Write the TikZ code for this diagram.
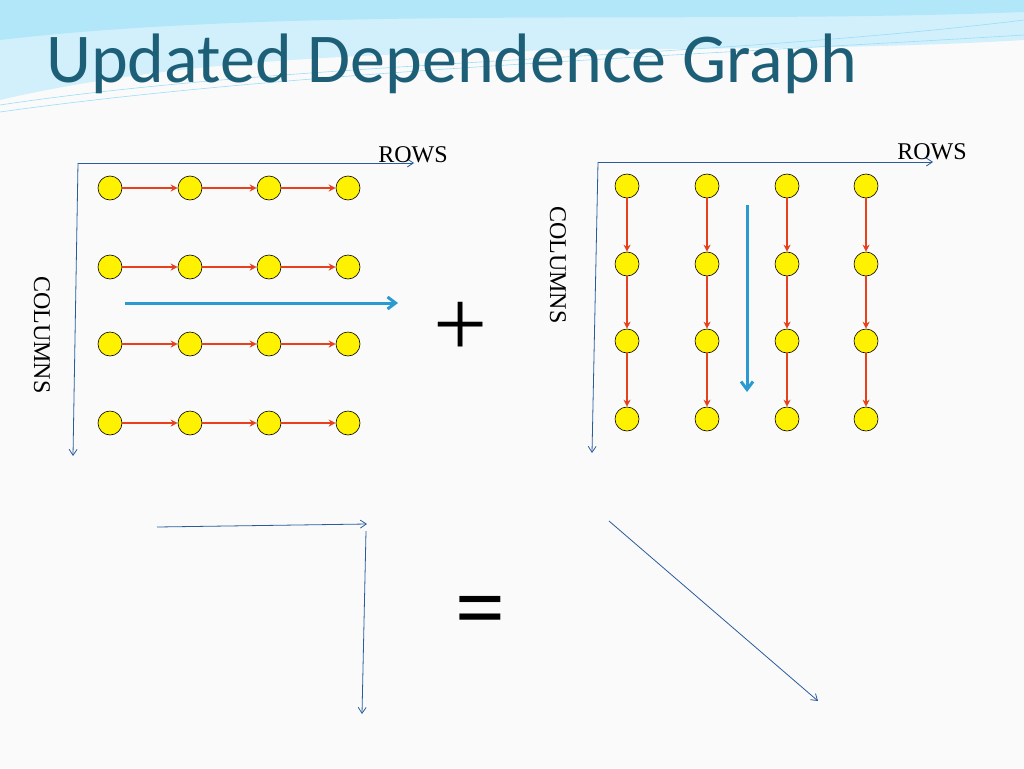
\documentclass[tikz,border=0pt]{standalone}
\usepackage{fontspec}
\setmainfont{Liberation Serif}
\newfontfamily\titlefont{Carlito}
\usetikzlibrary{arrows.meta}
\definecolor{axis}{HTML}{2A5C9A}
\definecolor{ttl}{HTML}{1E5F78}
\definecolor{bluear}{HTML}{2A9AD0}
\definecolor{redar}{HTML}{E8401C}
\begin{document}
\begin{tikzpicture}[x=1pt,y=-1pt,
  dot/.style={circle,draw=black,fill=yellow,minimum size=24pt,inner sep=0pt,line width=0.6pt},
  ax/.style={draw=axis,line width=0.8pt,-{Straight Barb[length=6pt,width=8pt]}},
  rar/.style={draw=redar,line width=1.1pt,-{Stealth[length=7pt,width=7pt]}},
  bar/.style={draw=bluear,line width=3pt,-{Straight Barb[length=8pt,width=12pt]}},
  lbl/.style={font=\fontsize{24}{26}\selectfont,inner sep=0pt}]
\useasboundingbox (0,0) rectangle (1024,768);
\fill[white!96!gray] (0,0) rectangle (1024,768);
% header swoosh
\fill[cyan!18!white] (0,0) -- (1024,0) -- (1024,40) .. controls (700,60) and (300,30) .. (0,100) -- cycle;
\fill[cyan!35!white,opacity=0.7] (0,0) -- (1024,0) -- (1024,12) .. controls (700,25) and (300,5) .. (0,40) -- cycle;
\draw[cyan!40!white,line width=0.6pt] (0,105) .. controls (300,60) and (700,60) .. (1024,20);
\draw[cyan!40!white,line width=0.6pt] (0,112) .. controls (300,70) and (700,55) .. (1024,35);
\node[anchor=west,text=ttl,inner sep=0pt,font=\titlefont\fontsize{70}{74}\selectfont] (title) at (46,64) {Updated Dependence Graph};
% left panel
\coordinate (lo) at (78,163);
\coordinate (lx) at (414,163);
\coordinate (ly) at (73,456);
\draw[ax] (lo) -- (lx);
\draw[ax] (lo) -- (ly);
\node[lbl] (lrows) at (413,155) {ROWS};
\node[lbl,rotate=-90] (lcols) at (42,335) {COLUMNS};
\foreach \r/\y in {1/188,2/267,3/344,4/423}{
  \foreach \c/\x in {1/110,2/190,3/269,4/348}{
    \node[dot] (L\r\c) at (\x,\y) {};
  }
  \draw[rar] (L\r1) -- (L\r2);
  \draw[rar] (L\r2) -- (L\r3);
  \draw[rar] (L\r3) -- (L\r4);
}
\coordinate (hb1) at (125,303);
\coordinate (hb2) at (398,303);
\draw[bar] (hb1) -- (hb2);
\node[font=\fontsize{96}{96}\selectfont,inner sep=0pt] (plus) at (461,329) {+};
% right panel
\coordinate (ro) at (598,162);
\coordinate (rx) at (933,162);
\coordinate (ry) at (592,453);
\draw[ax] (ro) -- (rx);
\draw[ax] (ro) -- (ry);
\node[lbl] (rrows) at (932,152) {ROWS};
\node[lbl,rotate=-90] (rcols) at (558,265) {COLUMNS};
\foreach \c/\x in {1/627,2/707,3/787,4/866}{
  \foreach \r/\y in {1/186,2/264,3/341,4/419}{
    \node[dot] (R\r\c) at (\x,\y) {};
  }
  \draw[rar] (R1\c) -- (R2\c);
  \draw[rar] (R2\c) -- (R3\c);
  \draw[rar] (R3\c) -- (R4\c);
}
\coordinate (vb1) at (747,205);
\coordinate (vb2) at (747,392);
\draw[bar] (vb1) -- (vb2);
% bottom
\coordinate (b1) at (157,527);
\coordinate (b2) at (367,524);
\coordinate (b3) at (366,531);
\coordinate (b4) at (362,714);
\draw[ax] (b1) -- (b2);
\draw[ax] (b3) -- (b4);
\node[font=\fontsize{88}{88}\selectfont,inner sep=0pt] (eq) at (481,617) {\textbf{=}};
\coordinate (d1) at (609,521);
\coordinate (d2) at (818,701);
\draw[ax] (d1) -- (d2);
\end{tikzpicture}
\end{document}
